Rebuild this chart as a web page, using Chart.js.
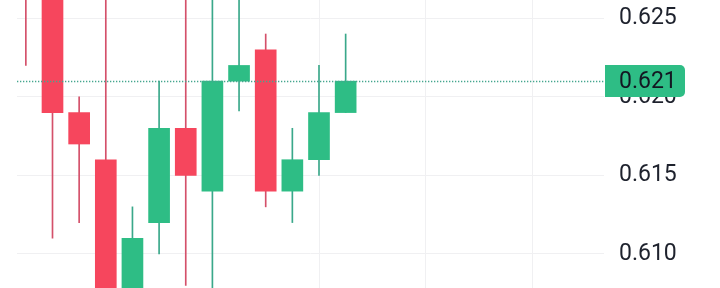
<!DOCTYPE html>
<html>
<head>
<meta charset="utf-8">
<script src="https://cdn.jsdelivr.net/npm/chart.js@4"></script>
<style>
html,body{margin:0;padding:0;background:#fff;}
</style>
</head>
<body>
<canvas id="chart" width="720" height="288"></canvas>
<script>
// --- data ---
const candleIdx = [0,1,2,3,4,5,6,7,8,9,10,11,12];
const openP  = [0.6285,0.6270,0.6190,0.6160,0.6075,0.6120,0.6180,0.6140,0.6210,0.6230,0.6140,0.6160,0.6190];
const closeP = [0.6270,0.6190,0.6170,0.6075,0.6110,0.6180,0.6150,0.6210,0.6220,0.6140,0.6160,0.6190,0.6210];
const highP  = [0.6295,0.6280,0.6200,0.6275,0.6130,0.6210,0.6280,0.6275,0.6270,0.6240,0.6180,0.6220,0.6240];
const lowP   = [0.6220,0.6110,0.6120,0.6050,0.6060,0.6100,0.6080,0.6060,0.6191,0.6130,0.6120,0.6150,0.6190];
const priceTicks = [0.610,0.615,0.620,0.625];
const timeGrid = [3,7,11,15,19];
const lastPrice = closeP[closeP.length-1];

const UP = '#2ebd85', DOWN = '#f6465d';
const UP_WICK = '#3aa88a', DOWN_WICK = '#d4506a';
const isUp = candleIdx.map(i => closeP[i] >= openP[i]);

const FONT = {family:'Roboto', size:23};

// last price line + tag on the axis
const priceTag = {
    id:'priceTag',
    afterDatasetsDraw(chart){
        const {ctx, chartArea} = chart;
        const y = Math.round(chart.scales.y.getPixelForValue(lastPrice)) + 0.5;
        ctx.save();
        ctx.strokeStyle = '#45a68e';
        ctx.lineWidth = 1.3;
        ctx.setLineDash([1.3,1.7]);
        ctx.beginPath();
        ctx.moveTo(chartArea.left, y);
        ctx.lineTo(chartArea.right, y);
        ctx.stroke();
        ctx.restore();
    },
    afterDraw(chart){
        const {ctx, chartArea} = chart;
        const y = chart.scales.y.getPixelForValue(lastPrice);
        ctx.save();
        ctx.fillStyle = UP;
        ctx.beginPath();
        ctx.roundRect(chartArea.right + 1, Math.round(y) - 16, 80, 32, [0,5,5,0]);
        ctx.fill();
        ctx.fillStyle = '#131722';
        ctx.font = FONT.size + 'px ' + FONT.family;
        ctx.textAlign = 'left';
        ctx.textBaseline = 'middle';
        ctx.fillText(lastPrice.toFixed(3), chartArea.right + 15, y + 1);
        ctx.restore();
    }
};

new Chart(document.getElementById('chart'), {
    type:'bar',
    data:{
        datasets:[
            {
                label:'wick',
                data:candleIdx.map(i => ({x:i, y:[lowP[i], highP[i]]})),
                backgroundColor:candleIdx.map(i => isUp[i] ? UP_WICK : DOWN_WICK),
                barThickness:1,
                grouped:false,
                order:2
            },
            {
                label:'body',
                data:candleIdx.map(i => ({x:i, y:[openP[i], closeP[i]]})),
                backgroundColor:candleIdx.map(i => isUp[i] ? UP : DOWN),
                barThickness:21,
                grouped:false,
                order:1
            }
        ]
    },
    options:{
        responsive:false,
        animation:false,
        layout:{padding:{left:17, right:0, top:0, bottom:0}},
        plugins:{legend:{display:false}, tooltip:{enabled:false}},
        scales:{
            x:{
                type:'linear',
                offset:false,
                min:-0.332,
                max:21.694,
                grid:{color:'#f0f0f2', drawTicks:false, offset:false},
                border:{display:false},
                ticks:{display:false},
                afterBuildTicks:s => { s.ticks = timeGrid.map(v => ({value:v})); },
                afterFit:s => { s.height = 0; s.paddingLeft = 0; s.paddingRight = 0; }
            },
            y:{
                position:'right',
                min:0.607836,
                max:0.626165,
                grid:{color:'#f0f0f2', drawTicks:false},
                border:{display:false},
                ticks:{
                    padding:15,
                    color:'#1e222d',
                    font:FONT,
                    callback:v => Number(v).toFixed(3)
                },
                afterBuildTicks:s => { s.ticks = priceTicks.map(v => ({value:v})); },
                afterFit:s => { s.width = 116; s.paddingTop = 0; s.paddingBottom = 0; }
            }
        }
    },
    plugins:[priceTag]
});
</script>
</body>
</html>
